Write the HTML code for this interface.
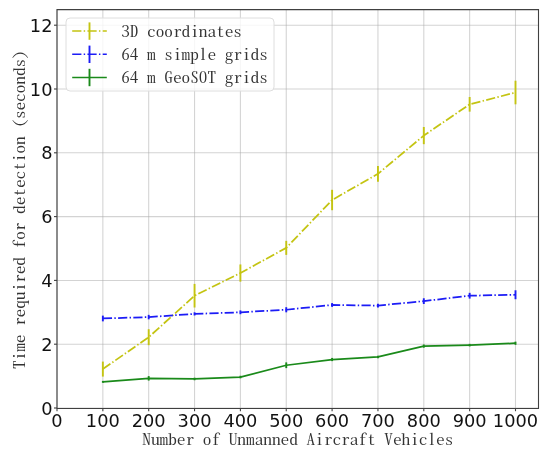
<!DOCTYPE html>
<html><head><meta charset="utf-8"><title>Detection time chart</title>
<style>html,body{margin:0;padding:0;background:#fff;width:550px;height:459px;overflow:hidden}svg{display:block}</style>
</head><body>
<svg width="550" height="459" viewBox="0 0 550 459">
<rect width="550" height="459" fill="#fff"/>
<line x1="57.00" y1="9.6" x2="57.00" y2="408" stroke="#a8a8a8" stroke-opacity="0.5" stroke-width="1.05"/>
<line x1="102.85" y1="9.6" x2="102.85" y2="408" stroke="#a8a8a8" stroke-opacity="0.5" stroke-width="1.05"/>
<line x1="148.70" y1="9.6" x2="148.70" y2="408" stroke="#a8a8a8" stroke-opacity="0.5" stroke-width="1.05"/>
<line x1="194.55" y1="9.6" x2="194.55" y2="408" stroke="#a8a8a8" stroke-opacity="0.5" stroke-width="1.05"/>
<line x1="240.40" y1="9.6" x2="240.40" y2="408" stroke="#a8a8a8" stroke-opacity="0.5" stroke-width="1.05"/>
<line x1="286.25" y1="9.6" x2="286.25" y2="408" stroke="#a8a8a8" stroke-opacity="0.5" stroke-width="1.05"/>
<line x1="332.10" y1="9.6" x2="332.10" y2="408" stroke="#a8a8a8" stroke-opacity="0.5" stroke-width="1.05"/>
<line x1="377.95" y1="9.6" x2="377.95" y2="408" stroke="#a8a8a8" stroke-opacity="0.5" stroke-width="1.05"/>
<line x1="423.80" y1="9.6" x2="423.80" y2="408" stroke="#a8a8a8" stroke-opacity="0.5" stroke-width="1.05"/>
<line x1="469.65" y1="9.6" x2="469.65" y2="408" stroke="#a8a8a8" stroke-opacity="0.5" stroke-width="1.05"/>
<line x1="515.50" y1="9.6" x2="515.50" y2="408" stroke="#a8a8a8" stroke-opacity="0.5" stroke-width="1.05"/>
<line x1="57" y1="408.00" x2="538.5" y2="408.00" stroke="#a8a8a8" stroke-opacity="0.5" stroke-width="1.05"/>
<line x1="57" y1="344.20" x2="538.5" y2="344.20" stroke="#a8a8a8" stroke-opacity="0.5" stroke-width="1.05"/>
<line x1="57" y1="280.40" x2="538.5" y2="280.40" stroke="#a8a8a8" stroke-opacity="0.5" stroke-width="1.05"/>
<line x1="57" y1="216.60" x2="538.5" y2="216.60" stroke="#a8a8a8" stroke-opacity="0.5" stroke-width="1.05"/>
<line x1="57" y1="152.80" x2="538.5" y2="152.80" stroke="#a8a8a8" stroke-opacity="0.5" stroke-width="1.05"/>
<line x1="57" y1="89.00" x2="538.5" y2="89.00" stroke="#a8a8a8" stroke-opacity="0.5" stroke-width="1.05"/>
<line x1="57" y1="25.20" x2="538.5" y2="25.20" stroke="#a8a8a8" stroke-opacity="0.5" stroke-width="1.05"/>
<line x1="102.85" y1="361.59" x2="102.85" y2="376.58" stroke="#c4c412" stroke-width="1.9"/><line x1="148.70" y1="329.21" x2="148.70" y2="345.16" stroke="#c4c412" stroke-width="1.9"/><line x1="194.55" y1="283.91" x2="194.55" y2="307.51" stroke="#c4c412" stroke-width="1.9"/><line x1="240.40" y1="264.45" x2="240.40" y2="281.68" stroke="#c4c412" stroke-width="1.9"/><line x1="286.25" y1="240.84" x2="286.25" y2="254.88" stroke="#c4c412" stroke-width="1.9"/><line x1="332.10" y1="189.80" x2="332.10" y2="210.22" stroke="#c4c412" stroke-width="1.9"/><line x1="377.95" y1="165.88" x2="377.95" y2="181.83" stroke="#c4c412" stroke-width="1.9"/><line x1="423.80" y1="126.96" x2="423.80" y2="144.19" stroke="#c4c412" stroke-width="1.9"/><line x1="469.65" y1="96.98" x2="469.65" y2="111.65" stroke="#c4c412" stroke-width="1.9"/><line x1="515.50" y1="80.71" x2="515.50" y2="104.31" stroke="#c4c412" stroke-width="1.9"/><polyline points="102.85,369.08 148.70,337.18 194.55,295.71 240.40,273.06 286.25,247.86 332.10,200.01 377.95,173.85 423.80,135.57 469.65,104.31 515.50,92.51" fill="none" stroke="#c4c412" stroke-width="1.75" stroke-dasharray="9.203 2.301 1.438 2.301" stroke-linejoin="round"/>
<line x1="102.85" y1="315.62" x2="102.85" y2="321.36" stroke="#1c1cf6" stroke-width="1.9"/><line x1="148.70" y1="314.85" x2="148.70" y2="319.32" stroke="#1c1cf6" stroke-width="1.9"/><line x1="194.55" y1="312.30" x2="194.55" y2="315.49" stroke="#1c1cf6" stroke-width="1.9"/><line x1="240.40" y1="310.39" x2="240.40" y2="314.21" stroke="#1c1cf6" stroke-width="1.9"/><line x1="286.25" y1="307.20" x2="286.25" y2="312.30" stroke="#1c1cf6" stroke-width="1.9"/><line x1="332.10" y1="303.05" x2="332.10" y2="306.88" stroke="#1c1cf6" stroke-width="1.9"/><line x1="377.95" y1="303.69" x2="377.95" y2="307.51" stroke="#1c1cf6" stroke-width="1.9"/><line x1="423.80" y1="298.26" x2="423.80" y2="304.01" stroke="#1c1cf6" stroke-width="1.9"/><line x1="469.65" y1="292.84" x2="469.65" y2="298.58" stroke="#1c1cf6" stroke-width="1.9"/><line x1="515.50" y1="290.29" x2="515.50" y2="299.22" stroke="#1c1cf6" stroke-width="1.9"/><polyline points="102.85,318.49 148.70,317.09 194.55,313.89 240.40,312.30 286.25,309.75 332.10,304.96 377.95,305.60 423.80,301.13 469.65,295.71 515.50,294.75" fill="none" stroke="#1c1cf6" stroke-width="1.75" stroke-dasharray="9.203 2.301 1.438 2.301" stroke-linejoin="round"/>
<line x1="102.85" y1="380.88" x2="102.85" y2="382.80" stroke="#1a8a1a" stroke-width="1.9"/><line x1="148.70" y1="376.10" x2="148.70" y2="380.57" stroke="#1a8a1a" stroke-width="1.9"/><line x1="194.55" y1="377.69" x2="194.55" y2="380.25" stroke="#1a8a1a" stroke-width="1.9"/><line x1="240.40" y1="375.78" x2="240.40" y2="378.33" stroke="#1a8a1a" stroke-width="1.9"/><line x1="286.25" y1="362.38" x2="286.25" y2="368.12" stroke="#1a8a1a" stroke-width="1.9"/><line x1="332.10" y1="357.92" x2="332.10" y2="361.11" stroke="#1a8a1a" stroke-width="1.9"/><line x1="377.95" y1="355.68" x2="377.95" y2="358.24" stroke="#1a8a1a" stroke-width="1.9"/><line x1="423.80" y1="344.52" x2="423.80" y2="347.71" stroke="#1a8a1a" stroke-width="1.9"/><line x1="469.65" y1="343.88" x2="469.65" y2="346.43" stroke="#1a8a1a" stroke-width="1.9"/><line x1="515.50" y1="341.65" x2="515.50" y2="344.84" stroke="#1a8a1a" stroke-width="1.9"/><polyline points="102.85,381.84 148.70,378.33 194.55,378.97 240.40,377.06 286.25,365.25 332.10,359.51 377.95,356.96 423.80,346.11 469.65,345.16 515.50,343.24" fill="none" stroke="#1a8a1a" stroke-width="1.75" stroke-linejoin="round"/>
<path d="M57,9.6 V408.5 M56.45,408.5 H539.05 M538.5,409.05 V9.6 M539.05,9.6 H56.45" fill="none" stroke="#404040" stroke-width="1.1"/>
<line x1="57.00" y1="408.5" x2="57.00" y2="411.2" stroke="#404040" stroke-width="1.1"/>
<line x1="102.85" y1="408.5" x2="102.85" y2="411.2" stroke="#404040" stroke-width="1.1"/>
<line x1="148.70" y1="408.5" x2="148.70" y2="411.2" stroke="#404040" stroke-width="1.1"/>
<line x1="194.55" y1="408.5" x2="194.55" y2="411.2" stroke="#404040" stroke-width="1.1"/>
<line x1="240.40" y1="408.5" x2="240.40" y2="411.2" stroke="#404040" stroke-width="1.1"/>
<line x1="286.25" y1="408.5" x2="286.25" y2="411.2" stroke="#404040" stroke-width="1.1"/>
<line x1="332.10" y1="408.5" x2="332.10" y2="411.2" stroke="#404040" stroke-width="1.1"/>
<line x1="377.95" y1="408.5" x2="377.95" y2="411.2" stroke="#404040" stroke-width="1.1"/>
<line x1="423.80" y1="408.5" x2="423.80" y2="411.2" stroke="#404040" stroke-width="1.1"/>
<line x1="469.65" y1="408.5" x2="469.65" y2="411.2" stroke="#404040" stroke-width="1.1"/>
<line x1="515.50" y1="408.5" x2="515.50" y2="411.2" stroke="#404040" stroke-width="1.1"/>
<line x1="54" y1="408.00" x2="57" y2="408.00" stroke="#404040" stroke-width="1.1"/>
<line x1="54" y1="344.20" x2="57" y2="344.20" stroke="#404040" stroke-width="1.1"/>
<line x1="54" y1="280.40" x2="57" y2="280.40" stroke="#404040" stroke-width="1.1"/>
<line x1="54" y1="216.60" x2="57" y2="216.60" stroke="#404040" stroke-width="1.1"/>
<line x1="54" y1="152.80" x2="57" y2="152.80" stroke="#404040" stroke-width="1.1"/>
<line x1="54" y1="89.00" x2="57" y2="89.00" stroke="#404040" stroke-width="1.1"/>
<line x1="54" y1="25.20" x2="57" y2="25.20" stroke="#404040" stroke-width="1.1"/>
<text x="57.00" y="426.7" text-anchor="middle" style="font-family:'DejaVu Sans',sans-serif;font-size:17.8px;fill:#111">0</text>
<text x="102.85" y="426.7" text-anchor="middle" style="font-family:'DejaVu Sans',sans-serif;font-size:17.8px;fill:#111">100</text>
<text x="148.70" y="426.7" text-anchor="middle" style="font-family:'DejaVu Sans',sans-serif;font-size:17.8px;fill:#111">200</text>
<text x="194.55" y="426.7" text-anchor="middle" style="font-family:'DejaVu Sans',sans-serif;font-size:17.8px;fill:#111">300</text>
<text x="240.40" y="426.7" text-anchor="middle" style="font-family:'DejaVu Sans',sans-serif;font-size:17.8px;fill:#111">400</text>
<text x="286.25" y="426.7" text-anchor="middle" style="font-family:'DejaVu Sans',sans-serif;font-size:17.8px;fill:#111">500</text>
<text x="332.10" y="426.7" text-anchor="middle" style="font-family:'DejaVu Sans',sans-serif;font-size:17.8px;fill:#111">600</text>
<text x="377.95" y="426.7" text-anchor="middle" style="font-family:'DejaVu Sans',sans-serif;font-size:17.8px;fill:#111">700</text>
<text x="423.80" y="426.7" text-anchor="middle" style="font-family:'DejaVu Sans',sans-serif;font-size:17.8px;fill:#111">800</text>
<text x="469.65" y="426.7" text-anchor="middle" style="font-family:'DejaVu Sans',sans-serif;font-size:17.8px;fill:#111">900</text>
<text x="515.50" y="426.7" text-anchor="middle" style="font-family:'DejaVu Sans',sans-serif;font-size:17.8px;fill:#111">1000</text>
<text x="52.5" y="414.50" text-anchor="end" style="font-family:'DejaVu Sans',sans-serif;font-size:17.8px;fill:#111">0</text>
<text x="52.5" y="350.70" text-anchor="end" style="font-family:'DejaVu Sans',sans-serif;font-size:17.8px;fill:#111">2</text>
<text x="52.5" y="286.90" text-anchor="end" style="font-family:'DejaVu Sans',sans-serif;font-size:17.8px;fill:#111">4</text>
<text x="52.5" y="223.10" text-anchor="end" style="font-family:'DejaVu Sans',sans-serif;font-size:17.8px;fill:#111">6</text>
<text x="52.5" y="159.30" text-anchor="end" style="font-family:'DejaVu Sans',sans-serif;font-size:17.8px;fill:#111">8</text>
<text x="52.5" y="95.50" text-anchor="end" style="font-family:'DejaVu Sans',sans-serif;font-size:17.8px;fill:#111">10</text>
<text x="52.5" y="31.70" text-anchor="end" style="font-family:'DejaVu Sans',sans-serif;font-size:17.8px;fill:#111">12</text>
<rect x="66" y="18" width="208" height="73" rx="4" ry="4" fill="#fff" fill-opacity="0.8" stroke="#dedede" stroke-width="1"/>
<line x1="72.2" y1="31.1" x2="106.8" y2="31.1" stroke="#c4c412" stroke-width="1.5" stroke-dasharray="9.203 2.301 1.438 2.301"/>
<line x1="89.5" y1="22.400000000000002" x2="89.5" y2="39.8" stroke="#c4c412" stroke-width="1.9"/>
<text transform="translate(121.2,36.8) scale(1,0.87)" x="0" y="0" textLength="120.68" style="font-family:'Noto Serif CJK SC','Liberation Serif',serif;font-size:17.2px;font-feature-settings:'hwid';fill:#333">3D coordinates</text>
<line x1="72.2" y1="54.3" x2="106.8" y2="54.3" stroke="#1c1cf6" stroke-width="1.5" stroke-dasharray="9.203 2.301 1.438 2.301"/>
<line x1="89.5" y1="45.599999999999994" x2="89.5" y2="63.0" stroke="#1c1cf6" stroke-width="1.9"/>
<text transform="translate(121.2,60.0) scale(1,0.87)" x="0" y="0" textLength="146.54" style="font-family:'Noto Serif CJK SC','Liberation Serif',serif;font-size:17.2px;font-feature-settings:'hwid';fill:#333">64 m simple grids</text>
<line x1="72.2" y1="77.5" x2="106.8" y2="77.5" stroke="#1a8a1a" stroke-width="1.5"/>
<line x1="89.5" y1="68.8" x2="89.5" y2="86.2" stroke="#1a8a1a" stroke-width="1.9"/>
<text transform="translate(121.2,83.2) scale(1,0.87)" x="0" y="0" textLength="146.54" style="font-family:'Noto Serif CJK SC','Liberation Serif',serif;font-size:17.2px;font-feature-settings:'hwid';fill:#333">64 m GeoSOT grids</text>
<text transform="translate(142.3,444.7) scale(1,0.87)" x="0" y="0" textLength="311.04" style="font-family:'Noto Serif CJK SC','Liberation Serif',serif;font-size:17.2px;font-feature-settings:'hwid';fill:#333">Number of Unmanned Aircraft Vehicles</text>
<text transform="translate(24.8,368.4) rotate(-90) translate(-0.7,0) scale(1,0.87)" x="0" y="0" textLength="318.94" style="font-family:'Noto Serif CJK SC','Liberation Serif',serif;font-size:17.2px;font-feature-settings:'hwid';fill:#333">Time required for detection (seconds)</text>
</svg>
</body></html>
